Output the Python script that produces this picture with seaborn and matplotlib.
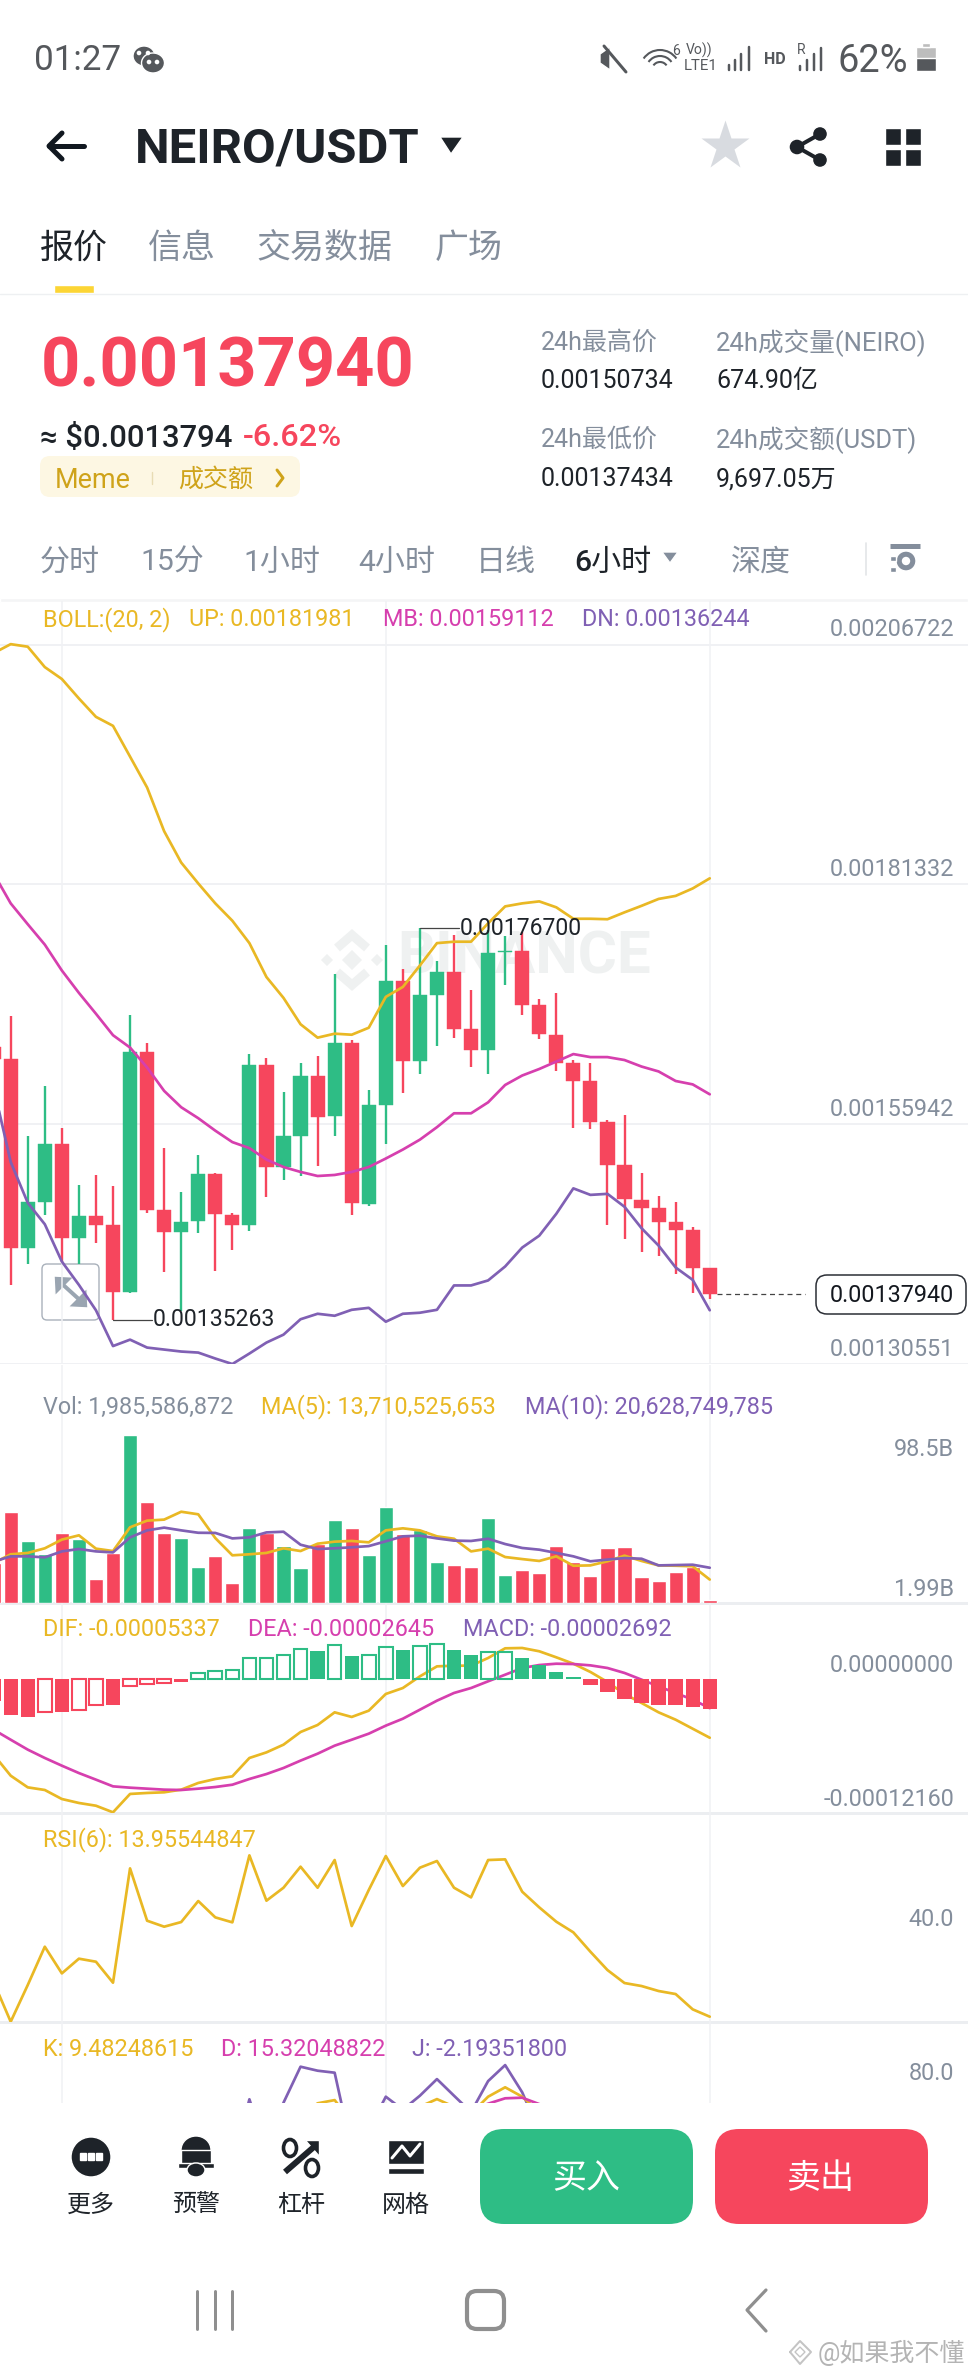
import numpy as np
import pandas as pd
import matplotlib
matplotlib.use("Agg")
import matplotlib.pyplot as plt
from matplotlib.patches import FancyBboxPatch, Circle, Ellipse, Rectangle, Polygon, Arc
import seaborn as sns

# ---------- data (prices in units of 1e-5 USDT, volume in billions) ----------
idx = list(range(-1, 42))
high_ = [164.16,167.37,154.68,160.00,155.57,149.46,150.52,149.41,167.48,164.53,153.41,148.78,152.68,150.83,146.57,
         163.42,163.00,159.37,162.47,163.16,171.80,164.90,159.52,174.91,172.38,176.70,173.22,176.01,170.11,176.49,
         175.91,176.33,169.22,169.80,162.74,162.47,156.42,156.94,150.73,148.36,147.73,145.09,140.67]
open_ = [164.16,162.84,142.83,147.73,153.89,143.93,146.25,145.25,138.19,163.58,146.88,144.51,145.67,150.62,146.36,
         145.25,162.26,151.36,154.73,161.05,156.79,164.58,147.52,158.00,171.11,162.68,169.58,172.06,166.00,163.79,
         174.22,174.33,168.59,165.37,162.47,160.47,156.15,151.67,147.93,147.09,145.62,144.78,140.67]
close_ = [162.84,142.83,147.73,153.89,143.88,146.25,145.25,138.19,163.58,146.88,144.51,145.62,150.62,146.46,145.25,
          162.26,151.36,154.68,161.05,156.73,164.58,147.62,158.00,171.11,162.68,169.58,172.06,166.06,163.79,174.06,
          174.33,168.59,165.48,162.47,160.52,156.15,151.67,147.99,147.09,145.62,144.78,140.67,137.94]
low_ = [162.84,138.87,141.09,146.30,141.30,141.14,143.35,135.26,138.09,146.51,140.25,136.14,144.46,140.35,142.62,
        144.67,148.20,150.04,150.41,151.52,154.68,146.36,147.30,153.89,159.21,161.31,164.21,165.11,162.05,161.31,
        170.64,167.48,165.00,161.63,155.57,155.41,145.25,143.77,142.46,142.04,140.03,138.03,137.45]
boll_up = [205.83,206.78,206.51,204.35,203.09,201.03,199.08,198.13,194.87,191.60,186.97,183.65,181.44,179.33,177.49,
           175.12,171.53,169.32,166.53,165.11,165.53,165.42,166.16,169.43,170.48,172.75,175.12,175.27,175.27,177.22,
           179.01,179.33,179.54,178.91,177.70,177.70,177.65,178.38,179.07,179.80,180.12,180.91,181.98]
boll_mb = [182.49,179.33,177.12,174.96,172.22,169.85,167.64,165.37,164.06,161.95,159.47,157.74,156.58,155.26,154.05,
           153.41,152.20,151.41,150.89,150.46,150.57,150.89,151.41,152.31,153.26,154.31,155.63,157.10,157.10,158.26,
           160.10,161.10,161.79,162.58,163.37,163.05,163.05,162.74,162.05,161.53,160.52,160.16,159.11]
boll_dn = [159.84,151.94,147.62,145.35,141.40,138.93,136.24,132.45,133.13,132.29,132.08,131.87,131.76,131.13,130.55,
           131.66,132.82,133.66,135.29,135.87,135.66,136.29,136.50,135.03,135.87,135.98,136.29,138.87,138.87,139.40,
           140.88,142.88,144.14,146.46,149.15,148.46,148.57,147.20,144.93,143.09,140.77,139.46,136.24]
volume = [23.4,53.0,36.1,28.7,41.0,37.6,14.2,29.3,98.5,59.3,40.8,38.0,21.1,27.5,11.5,44.1,41.0,33.5,20.7,34.7,48.4,
          44.1,28.1,56.4,40.6,42.5,24.2,22.0,21.3,49.5,16.4,19.1,17.6,33.3,24.2,16.0,32.2,33.0,15.4,12.9,18.1,21.1,1.99]
vol_ma5 = [23.4,28.5,29.3,32.0,37.1,39.6,31.8,30.4,44.3,48.2,48.8,53.4,51.9,38.0,27.9,28.5,29.3,32.0,30.4,34.7,35.9,
           36.3,35.5,42.5,43.7,42.5,39.0,37.6,30.2,31.8,26.9,25.7,24.6,27.3,21.8,22.0,24.4,27.7,24.6,22.0,21.8,21.5,13.71]
vol_ma10 = [24.2,27.3,27.3,26.7,30.2,31.6,30.2,29.6,38.4,42.5,44.1,42.5,41.1,41.0,37.8,38.4,41.3,41.7,34.1,31.6,32.0,
            32.6,33.3,36.1,39.0,39.4,37.8,36.5,36.3,37.6,34.5,32.2,31.2,29.3,27.3,24.4,25.4,26.3,25.9,22.0,22.2,22.4,20.63]
macd = [-2.03,-3.27,-3.45,-2.97,-3.03,-2.79,-2.36,-2.36,-0.61,-0.42,-0.33,-0.30,0.55,0.70,0.79,1.91,1.91,2.15,2.70,2.58,
        3.06,2.06,2.15,2.94,2.67,3.03,3.18,2.67,2.15,2.45,2.48,1.94,1.30,0.67,0.18,-0.55,-1.21,-1.85,-2.18,-2.36,-2.36,-2.58,-2.69]
macd_hollow = [0,0,0,1,0,1,1,0,1,1,1,0,1,1,1,1,1,1,1,0,1,0,1,1,0,1,1,0,0,1,1,0,0,0,0,0,0,0,0,0,0,0,0]
dif = [-6.88,-8.79,-9.85,-10.09,-10.91,-11.27,-11.52,-12.12,-10.45,-10.36,-10.30,-10.06,-9.45,-9.09,-8.85,-7.18,-6.67,
       -5.97,-4.82,-4.18,-3.03,-3.45,-2.88,-1.36,-0.82,0.24,1.15,1.21,1.21,1.91,2.79,2.82,2.52,1.97,1.39,0.64,-0.27,
       -1.36,-2.18,-3.03,-3.70,-4.52,-5.34]
dea = [-4.61,-5.52,-6.42,-7.18,-7.88,-8.55,-9.15,-9.76,-9.88,-9.97,-10.06,-10.09,-9.97,-9.82,-9.61,-9.09,-8.64,-8.09,
       -7.42,-6.79,-6.06,-5.52,-4.97,-4.24,-3.61,-2.79,-1.97,-1.27,-0.82,-0.21,0.39,1.00,1.27,1.39,1.36,1.24,1.00,0.55,
       -0.06,-0.67,-1.27,-1.88,-2.65]
rsi = [24.03,12.50,23.16,34.30,26.55,30.82,29.94,23.84,57.07,41.86,40.12,41.47,47.58,42.83,41.38,60.85,47.68,51.45,
       57.56,51.45,59.50,40.31,50.78,60.66,51.94,57.27,59.21,51.45,48.64,59.50,59.69,50.29,45.74,41.57,38.47,32.85,
       27.52,23.74,22.87,21.42,20.54,16.09,13.96]
kdj_k = [20,14,16,24,26,28,30,26,40,44,44,45,47,45,42,52,48,52,62,69.2,70.8,60,56,61,60,67.5,71.3,67.5,64,72.5,77.2,
         72.5,65,56,48,40,32,26,22,18,15,12,9.48]
kdj_d = [24,20,18,20,22,24,26,26,32,36,38,40,42,43,43,46,46,48,53,58,63,62,60,60,60,62,65,66,66,69,71.7,72,68.8,64,58,
         52,46,40,34,29,24,20,15.32]
kdj_j = [12,6,18,34,26,32,30,18,62,48,42,44,52,40,38,71.2,45,69.5,87.5,85.5,84.5,46,56,72.5,66,73,81.3,73,64.8,80.3,
         88.3,74.7,55,42,34,26,18,12,10,8,7,1,-2.19]
price_ticks = [206.722, 181.332, 155.942, 130.551]
price_tick_labels = ["0.00206722", "0.00181332", "0.00155942", "0.00130551"]
grid_candles = [3, 22, 41]
last_price = 137.94
peak_price, peak_i, trough_price, trough_i = 176.70, 24, 135.263, 6

# ---------- style ----------
sns.set_theme(style="white")
plt.rcParams["font.family"] = ["Roboto", "Noto Sans CJK SC", "DejaVu Sans"]
W, H = 968, 2376
RED, GREEN = "#f6465d", "#2ebd85"
YEL, MAG, PUR = "#e9b824", "#d63fae", "#8060b4"
GRAY, DARK, GRID = "#848e9c", "#1e2329", "#f0f1f4"
LW = 1.95
fig = plt.figure(figsize=(W / 100, H / 100), dpi=100, facecolor="white")

bg = fig.add_axes([0, 0, 1, 1], zorder=0)
bg.set_xlim(0, W); bg.set_ylim(H, 0); bg.axis("off")
tx = fig.add_axes([0, 0, 1, 1], zorder=6)
tx.set_facecolor("none"); tx.set_xlim(0, W); tx.set_ylim(H, 0); tx.axis("off")


def T(x, y, s, px, color=DARK, ha="left", weight="normal", ax=None, **kw):
    if ax is None:
        ax, y = tx, y + 2
    return ax.text(x, y, s, fontsize=px * 0.72, color=color, ha=ha, va="center", weight=weight, **kw)


def rbox(x0, y0, x1, y1, r, **kw):
    p = FancyBboxPatch((x0 + r, y0 + r), x1 - x0 - 2 * r, y1 - y0 - 2 * r,
                       boxstyle=f"round,pad={r},rounding_size={r}", **kw)
    bg.add_patch(p)
    return p


def seg(xs, ys, color=DARK, px=3, **kw):
    kw.setdefault("solid_capstyle", "round")
    kw.setdefault("solid_joinstyle", "round")
    bg.plot(xs, ys, color=color, lw=px * 0.72, **kw)


# ---------- panes ----------
XL = (-10.7 / 17.05, (W - 10.7) / 17.05)


def pane(y0, y1, vmin, vmax):
    ax = fig.add_axes([0, 1 - y1 / H, 1, (y1 - y0) / H], zorder=2)
    ax.set_facecolor("none")
    ax.set_xlim(*XL); ax.set_ylim(vmin, vmax)
    ax.axis("off")
    return ax


def line(ax, y, color, z=5):
    sns.lineplot(x=idx, y=y, ax=ax, color=color, lw=LW, sort=False, errorbar=None, zorder=z)
    ax.set_xlim(*XL)


# price pane: 644.7px = 206.722, 1364px = 130.551
ppu = (1364 - 644.7) / (206.722 - 130.551)
ax_p = pane(601, 1364, 130.551, 206.722 + (644.7 - 601) / ppu)
for t in price_ticks:
    ax_p.axhline(t, color=GRID, lw=1.4, zorder=0)
up = [c >= o for o, c in zip(open_, close_)]
cols = [GREEN if u else RED for u in up]
ax_p.vlines(idx, low_, high_, colors=cols, lw=1.7, zorder=2)
ax_p.bar(idx, [abs(c - o) for o, c in zip(open_, close_)], bottom=[min(o, c) for o, c in zip(open_, close_)],
         width=0.83, color=cols, edgecolor=cols, linewidth=0.3, zorder=3)
line(ax_p, boll_up, YEL); line(ax_p, boll_mb, MAG); line(ax_p, boll_dn, PUR)
# peak / trough / last-price leaders
ax_p.plot([peak_i, peak_i + 2.3], [peak_price, peak_price], color="#444", lw=0.9, zorder=6)
ax_p.plot([trough_i, trough_i + 2.3], [trough_price, trough_price], color="#444", lw=0.9, zorder=6)
ax_p.plot([41.45, 46.6], [last_price, last_price], color="#444", lw=0.9, ls=(0, (4, 3)), zorder=6)
T(peak_i + 2.35, peak_price, "0.00176700", 23, "#1e2329", ax=ax_p, zorder=7)
T(trough_i + 2.35, trough_price, "0.00135263", 23, "#1e2329", ax=ax_p, zorder=7)

# volume pane
ax_v = pane(1365, 1603, 0, (1603 - 1365) / 1.709)
vol_df = pd.DataFrame({"i": idx, "v": volume, "c": ["u" if u else "d" for u in up]})
sns.barplot(data=vol_df, x="i", y="v", hue="c", palette={"u": GREEN, "d": RED}, native_scale=True, dodge=False,
            width=0.83, legend=False, ax=ax_v, zorder=3, saturation=1)
ax_v.set(xlabel=None, ylabel=None, xticks=[], yticks=[])
ax_v.set_xlim(*XL); ax_v.set_ylim(0, (1603 - 1365) / 1.709); ax_v.axis("off")
line(ax_v, vol_ma5, YEL); line(ax_v, vol_ma10, PUR)

# MACD pane
m_unit = 11.0
ax_m = pane(1603, 1813, -(1813 - 1679) / m_unit, (1679 - 1603) / m_unit)
line(ax_m, dif, YEL, z=2); line(ax_m, dea, MAG, z=2)
for i, m, h in zip(idx, macd, macd_hollow):
    c = GREEN if m >= 0 else RED
    ax_m.bar(i, m, width=0.8 if h else 0.84, facecolor="none" if h else c, edgecolor=c,
             linewidth=1.5 if h else 0, zorder=4)

# RSI pane
r_unit = 3.44
ax_r = pane(1813, 2022, 13.955 - (2022 - 2016.7) / r_unit, 13.955 + (2016.7 - 1813) / r_unit)
line(ax_r, rsi, YEL)

# KDJ pane (cut off by the bottom bar)
ax_k = pane(2022, 2103, 80 - (2103 - 2081.7) / 2, 80 + (2081.7 - 2022) / 2)
line(ax_k, kdj_j, PUR, z=3); line(ax_k, kdj_k, YEL, z=4); line(ax_k, kdj_d, MAG, z=5)

# vertical grid through all panes, behind the marks
for a in (ax_p, ax_v, ax_m, ax_r, ax_k):
    for g in grid_candles:
        a.axvline(g, color=GRID, lw=1.1, zorder=0)

# pane separators
for y, w in [(1603, 3), (1813, 3), (2022, 3)]:
    bg.plot([0, W], [y, y], color="#eceef1", lw=w * 0.72)

# ---------- legends and axis labels ----------
LB = 23.4
T(43, 618, "BOLL:(20, 2)", LB, YEL); T(189, 618, "UP: 0.00181981", LB, YEL)
T(383, 618, "MB: 0.00159112", LB, MAG); T(582, 618, "DN: 0.00136244", LB, PUR)
for lab, y in zip(price_tick_labels, [627, 868, 1107, 1348]):
    T(954, y, lab, LB, GRAY, ha="right")
rbox(816, 1275, 966, 1314, 11, fc="white", ec="#2b2f36", lw=1.1)
T(954, 1293, "0.00137940", LB, "#14181f", ha="right")
T(43, 1405, "Vol: 1,985,586,872", LB, GRAY); T(261, 1405, "MA(5): 13,710,525,653", LB, YEL)
T(525, 1405, "MA(10): 20,628,749,785", LB, PUR)
T(954, 1448, "98.5B", LB, GRAY, ha="right"); T(954, 1587, "1.99B", LB, GRAY, ha="right")
T(43, 1628, "DIF: -0.00005337", LB, YEL); T(248, 1628, "DEA: -0.00002645", LB, MAG)
T(463, 1628, "MACD: -0.00002692", LB, PUR)
T(954, 1663, "0.00000000", LB, GRAY, ha="right"); T(954, 1797, "-0.00012160", LB, GRAY, ha="right")
T(43, 1838, "RSI(6): 13.95544847", LB, YEL); T(954, 1917, "40.0", LB, GRAY, ha="right")
T(43, 2048, "K: 9.48248615", LB, YEL); T(221, 2048, "D: 15.32048822", LB, MAG)
T(412, 2048, "J: -2.19351800", LB, PUR); T(954, 2072, "80.0", LB, GRAY, ha="right")

# watermark (behind the marks)
WM = "#eff1f1"
T(397, 958, "BINANCE", 60, WM, weight="bold", ax=bg)
seg([337, 352, 367], [948, 935, 948], WM, 9, solid_capstyle="butt", solid_joinstyle="miter")
seg([337, 352, 367], [972, 985, 972], WM, 9, solid_capstyle="butt", solid_joinstyle="miter")
for cx, s in [(352, 10), (327, 6), (377, 6)]:
    bg.add_patch(Polygon([(cx - s, 960), (cx, 960 - s), (cx + s, 960), (cx, 960 + s)], fc=WM, ec="none"))

# expand button
rbox(42, 1264, 99, 1320, 5, fc="white", ec="#a9b1bb", lw=1.0)
seg([60, 82], [1282, 1302], "#9aa5b1", 4)
bg.add_patch(Polygon([(54, 1276), (74, 1277), (55, 1296)], fc="#9aa5b1"))
bg.add_patch(Polygon([(88, 1308), (68, 1307), (87, 1288)], fc="#9aa5b1"))

# ---------- status bar ----------
SB = "#55585c"
T(34, 59, "01:27", 35, SB)
bg.add_patch(Ellipse((144, 56), 22, 20, fc=SB)); bg.add_patch(Ellipse((153, 63), 23, 20, fc=SB, ec="white", lw=1))
for x, y in [(139, 53), (148, 53), (149, 62), (157, 62)]:
    bg.add_patch(Circle((x, y), 1.6, fc="white"))
bg.add_patch(Polygon([(610, 47), (610, 70), (600, 63), (600, 54)], fc=SB))
seg([604, 626], [46, 72], SB, 3)
for r in (8, 14, 20):
    bg.add_patch(Arc((660, 70), r * 2, r * 2, theta1=215, theta2=325, ec=SB, lw=1.5))
T(672, 49, "6", 14, SB); T(686, 48, "Vo))", 14, SB); T(684, 64, "LTE1", 15, SB)
for x, y0 in zip([729, 735, 741, 749], [65, 60, 54, 47]):
    seg([x, x], [y0, 70], SB, 2.5)
T(764, 58, "HD", 16, SB, weight="bold"); T(797, 48, "R", 14, SB)
for x, y0 in zip([800, 807, 814, 821], [66, 60, 54, 48]):
    seg([x, x], [y0, 70], SB, 2.5)
T(838, 59, "62%", 38, SB)
bg.add_patch(Rectangle((916, 47), 20, 24, fc="#bdbdbd")); bg.add_patch(Rectangle((916, 58), 20, 13, fc=SB))
bg.add_patch(Rectangle((922, 43), 8, 4, fc="#bdbdbd"))

# ---------- header ----------
seg([49, 84], [146, 146], "#111820", 5); seg([62, 49, 62], [133, 146, 159], "#111820", 5)
T(135, 148, "NEIRO/USDT", 49, DARK, weight="bold")
bg.add_patch(Polygon([(440, 137), (463, 137), (451, 154)], fc=DARK))
bg.plot([725], [146], marker="*", ms=37, color="#d8dbe0", mec="none")
for x, y, r in [(820, 134, 7.5), (797, 147, 8), (820, 160, 7.5)]:
    bg.add_patch(Circle((x, y), r, fc=DARK))
seg([797, 820], [147, 134], DARK, 4); seg([797, 820], [147, 160], DARK, 4)
for x, y in [(885, 128), (905, 128), (885, 149), (905, 149)]:
    bg.add_patch(Rectangle((x, y), 16, 17, fc=DARK))
T(40, 247, "报价", 34, DARK); T(148, 247, "信息", 34, GRAY); T(256, 247, "交易数据", 34, GRAY); T(435, 247, "广场", 34, GRAY)
bg.add_patch(Rectangle((54, 285), 40, 8, fc="#fcd535"))
bg.plot([0, W], [293.5, 293.5], color="#eef0f2", lw=1)

T(41, 366, "0.00137940", 68.5, RED, weight="bold")
T(40, 436, "≈ $0.0013794", 31, DARK, weight="medium"); T(243, 436, "-6.62%", 32.5, RED, weight="medium")
rbox(40, 456, 300, 497, 10, fc="#fdf7e3", ec="none")
T(55, 478, "Meme", 27, "#cfa31a"); bg.plot([152, 152], [472, 484], color="#e8dcb4", lw=1)
T(178, 478, "成交额", 25, "#cfa31a")
seg([277, 283, 277], [470, 478, 486], "#cfa31a", 3)
for x, y, s, c, px in [(541, 341, "24h最高价", GRAY, 25), (716, 341, "24h成交量(NEIRO)", GRAY, 25.6),
                       (541, 379, "0.00150734", DARK, 25), (716, 379, "674.90亿", DARK, 25),
                       (541, 438, "24h最低价", GRAY, 25), (716, 438, "24h成交额(USDT)", GRAY, 25.6),
                       (541, 477, "0.00137434", DARK, 25), (716, 477, "9,697.05万", DARK, 25)]:
    T(x, y, s, px, c)

for x, s in [(40, "分时"), (140, "15分"), (243, "1小时"), (358, "4小时"), (476, "日线"), (731, "深度")]:
    T(x, 561, s, 30, GRAY)
T(574, 561, "6小时", 30, DARK, weight="medium")
bg.add_patch(Polygon([(662, 552), (678, 552), (670, 563)], fc=GRAY))
bg.plot([866, 866], [543, 575], color="#e3e5e8", lw=1.2)
seg([890, 920], [546, 546], GRAY, 5, solid_capstyle="butt")
bg.add_patch(Circle((906, 561), 10, fc=GRAY)); bg.add_patch(Circle((906, 561), 3.5, fc="white"))
for y in (556, 567):
    bg.add_patch(Rectangle((890, y), 6, 5, fc=GRAY))
bg.add_patch(Rectangle((0, 598), W, 3.5, fc="#f4f5f6"))

# ---------- bottom bar ----------
bg.add_patch(Circle((91, 2157), 20, fc=DARK))
for x in (80, 88, 96):
    bg.add_patch(Rectangle((x, 2153), 6, 7, fc="white"))
bg.add_patch(Ellipse((196, 2150), 30, 28, fc=DARK)); bg.add_patch(Rectangle((181, 2150), 30, 15, fc=DARK))
bg.add_patch(Rectangle((178, 2163), 36, 5, fc=DARK)); bg.add_patch(Ellipse((196, 2170), 18, 14, fc=DARK))
seg([285, 315], [2172, 2146], DARK, 6, solid_capstyle="butt")
bg.add_patch(Polygon([(305, 2140), (319, 2140), (319, 2156)], fc=DARK))
for x, y in [(290, 2148), (312, 2168)]:
    bg.add_patch(Ellipse((x, y), 13, 17, fc="none", ec=DARK, lw=2.6))
bg.add_patch(Polygon([(388, 2140), (424, 2140), (424, 2164), (388, 2164)], fc=DARK))
seg([392, 402, 410, 420], [2158, 2146, 2156, 2144], "white", 3)
bg.add_patch(Rectangle((388, 2168), 36, 6, fc=DARK))
for x, s in [(91, "更多"), (196, "预警"), (301, "杠杆"), (406, "网格")]:
    T(x, 2203, s, 24, DARK, ha="center")
rbox(480, 2129, 693, 2224, 24, fc=GREEN, ec="none"); T(586, 2177, "买入", 34, "white", ha="center")
rbox(715, 2129, 928, 2224, 24, fc=RED, ec="none"); T(821, 2177, "卖出", 34, "white", ha="center")
for x in (197, 215, 232):
    seg([x, x], [2291, 2329], "#8f8f8f", 3)
rbox(467, 2291, 504, 2329, 10, fc="white", ec="#8f8f8f", lw=3)
seg([766, 747, 766], [2290, 2310, 2331], "#8f8f8f", 3.2)
T(818, 2351, "@如果我不懂", 25, "#b4b4b4")
seg([790, 800, 811, 800, 790], [2352, 2364, 2352, 2341, 2352], "#c4c4c4", 2)
bg.add_patch(Polygon([(795, 2352), (800, 2347), (805, 2352), (800, 2357)], fc="none", ec="#c4c4c4", lw=1))

fig.savefig("out.png", dpi=100, facecolor="white")
